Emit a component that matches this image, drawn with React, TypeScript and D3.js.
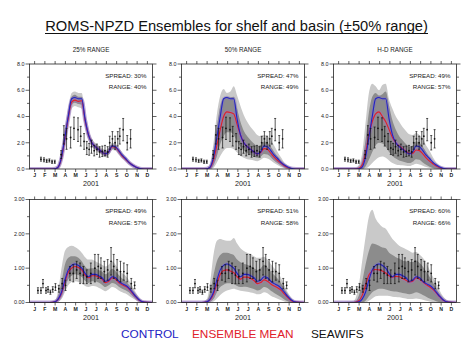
import React from "react";
import * as d3 from "d3";

// ---------- DATA ----------
const DAYS = [0, 60, 75, 85, 95, 105, 115, 125, 135, 145, 155, 165, 175, 185, 195, 205, 215, 225, 235, 245, 255, 265, 275, 285, 295, 305, 315, 325, 340, 365];
const MONTHS = ["J", "F", "M", "A", "M", "J", "J", "A", "S", "O", "N", "D"];
const YEAR_LABEL = "2001";
const COL_TITLES = ["25% RANGE", "50% RANGE", "H-D RANGE"];
const SPREADS = ["30%", "47%", "49%", "49%", "51%", "60%"];
const RANGES = ["40%", "49%", "57%", "57%", "58%", "66%"];
const TOP_TICKS = [0, 2, 4, 6, 8];
const BOT_TICKS = [0, 1, 2, 3];

// shelf (top row)
const CONTROL_TOP = [0, 0, 0.02, 0.15, 0.9, 2.4, 4.0, 5.35, 5.45, 5.35, 5.35, 3.8, 2.6, 2.0, 1.7, 1.5, 1.3, 1.15, 1.3, 1.75, 1.7, 1.4, 1.05, 0.8, 0.5, 0.3, 0.15, 0.05, 0, 0];
const MEAN_T25 = [0, 0, 0.02, 0.15, 0.85, 2.3, 3.9, 5.1, 5.25, 5.15, 5.2, 3.7, 2.6, 2.0, 1.7, 1.5, 1.3, 1.15, 1.3, 1.7, 1.65, 1.35, 1.0, 0.75, 0.5, 0.3, 0.15, 0.05, 0, 0];
const LHI_T25 = [0, 0, 0.05, 0.3, 1.3, 3.0, 4.6, 5.8, 5.9, 5.8, 5.8, 4.2, 3.0, 2.3, 2.0, 1.8, 1.6, 1.45, 1.6, 2.0, 1.95, 1.6, 1.25, 0.95, 0.65, 0.4, 0.2, 0.08, 0, 0];
const LLO_T25 = [0, 0, 0, 0.05, 0.5, 1.7, 3.3, 4.6, 4.8, 4.7, 4.6, 3.2, 2.2, 1.7, 1.45, 1.25, 1.05, 0.9, 1.05, 1.45, 1.4, 1.1, 0.8, 0.6, 0.35, 0.2, 0.1, 0.02, 0, 0];
const DHI_T25 = [0, 0, 0.03, 0.2, 1.1, 2.7, 4.3, 5.5, 5.65, 5.5, 5.5, 4.0, 2.8, 2.15, 1.85, 1.65, 1.45, 1.3, 1.45, 1.85, 1.8, 1.45, 1.15, 0.85, 0.55, 0.35, 0.17, 0.06, 0, 0];
const DLO_T25 = [0, 0, 0.01, 0.1, 0.65, 2.0, 3.6, 4.9, 5.05, 4.95, 4.9, 3.45, 2.4, 1.85, 1.55, 1.35, 1.15, 1.0, 1.15, 1.55, 1.5, 1.2, 0.9, 0.65, 0.42, 0.25, 0.12, 0.03, 0, 0];

const MEAN_T50 = [0, 0, 0.02, 0.12, 0.7, 1.8, 3.0, 4.0, 4.35, 4.3, 4.2, 3.4, 2.6, 2.0, 1.7, 1.5, 1.3, 1.15, 1.25, 1.55, 1.5, 1.2, 0.9, 0.65, 0.45, 0.25, 0.12, 0.04, 0, 0];
const LHI_T50 = [0, 0, 0.05, 0.4, 2.0, 4.2, 5.6, 6.1, 5.8, 5.9, 6.3, 5.6, 4.8, 4.1, 3.6, 3.2, 2.9, 2.6, 2.5, 2.6, 2.5, 2.2, 1.8, 1.3, 0.9, 0.5, 0.25, 0.1, 0, 0];
const LLO_T50 = [0, 0, 0, 0, 0.1, 0.5, 1.0, 1.4, 1.6, 1.6, 1.5, 1.25, 1.0, 0.85, 0.75, 0.7, 0.65, 0.6, 0.7, 0.85, 0.8, 0.65, 0.45, 0.3, 0.15, 0.07, 0.02, 0, 0, 0];
const DHI_T50 = [0, 0, 0.03, 0.25, 1.3, 3.2, 4.8, 5.4, 5.5, 5.45, 5.5, 4.6, 3.6, 2.9, 2.5, 2.2, 1.95, 1.75, 1.85, 2.1, 2.0, 1.7, 1.3, 0.95, 0.65, 0.38, 0.18, 0.06, 0, 0];
const DLO_T50 = [0, 0, 0, 0.02, 0.3, 1.0, 1.9, 2.5, 2.8, 2.8, 2.6, 2.1, 1.7, 1.4, 1.2, 1.05, 0.95, 0.85, 0.95, 1.15, 1.1, 0.9, 0.65, 0.45, 0.28, 0.14, 0.06, 0.01, 0, 0];

const MEAN_THD = [0, 0, 0.05, 0.3, 1.2, 2.6, 3.6, 4.2, 4.35, 4.0, 3.6, 3.0, 2.4, 2.0, 1.75, 1.55, 1.35, 1.2, 1.2, 1.45, 1.4, 1.15, 0.85, 0.6, 0.4, 0.22, 0.1, 0.03, 0, 0];
const LHI_THD = [0, 0, 0.3, 1.2, 3.5, 5.8, 6.5, 6.3, 6.0, 6.4, 6.5, 5.3, 4.6, 4.0, 3.6, 3.2, 2.9, 2.65, 2.6, 2.75, 2.6, 2.3, 1.8, 1.4, 0.9, 0.5, 0.25, 0.1, 0, 0];
const LLO_THD = [0, 0, 0, 0, 0.05, 0.2, 0.45, 0.7, 0.9, 0.95, 0.85, 0.65, 0.45, 0.35, 0.3, 0.28, 0.25, 0.22, 0.3, 0.4, 0.35, 0.25, 0.15, 0.08, 0.03, 0, 0, 0, 0, 0];
const DHI_THD = [0, 0, 0.1, 0.6, 2.2, 4.3, 5.5, 5.8, 5.6, 5.7, 5.9, 4.8, 3.7, 3.0, 2.5, 2.2, 1.9, 1.7, 1.8, 2.1, 2.0, 1.7, 1.3, 0.9, 0.55, 0.3, 0.13, 0.04, 0, 0];
const DLO_THD = [0, 0, 0, 0.02, 0.2, 0.7, 1.3, 1.8, 2.0, 1.95, 1.7, 1.3, 1.0, 0.8, 0.65, 0.58, 0.5, 0.45, 0.55, 0.75, 0.7, 0.5, 0.32, 0.18, 0.08, 0.03, 0, 0, 0, 0];

// basin (bottom row)
const CONTROL_BOT = [0, 0, 0.02, 0.1, 0.3, 0.65, 0.95, 1.08, 1.12, 1.08, 1.0, 0.85, 0.75, 0.82, 0.82, 0.78, 0.72, 0.62, 0.65, 0.75, 0.72, 0.62, 0.55, 0.5, 0.42, 0.3, 0.18, 0.08, 0.01, 0];
const MEAN_B25 = [0, 0, 0.02, 0.09, 0.27, 0.6, 0.88, 1.0, 1.05, 1.02, 0.95, 0.8, 0.72, 0.78, 0.78, 0.74, 0.68, 0.58, 0.62, 0.72, 0.68, 0.58, 0.52, 0.47, 0.4, 0.28, 0.17, 0.07, 0.01, 0];
const LHI_B25 = [0, 0, 0.05, 0.35, 1.0, 1.5, 1.62, 1.65, 1.62, 1.55, 1.45, 1.32, 1.25, 1.25, 1.2, 1.15, 1.1, 1.05, 1.1, 1.2, 1.1, 0.95, 0.85, 0.78, 0.65, 0.48, 0.3, 0.15, 0.03, 0];
const LLO_B25 = [0, 0, 0, 0.02, 0.1, 0.3, 0.5, 0.6, 0.62, 0.6, 0.55, 0.48, 0.45, 0.48, 0.47, 0.43, 0.38, 0.33, 0.38, 0.45, 0.42, 0.35, 0.3, 0.26, 0.2, 0.13, 0.07, 0.02, 0, 0];
const DHI_B25 = [0, 0, 0.03, 0.2, 0.6, 1.1, 1.3, 1.35, 1.35, 1.3, 1.2, 1.05, 0.98, 1.0, 1.0, 0.95, 0.9, 0.82, 0.88, 0.98, 0.92, 0.8, 0.7, 0.62, 0.52, 0.38, 0.23, 0.1, 0.02, 0];
const DLO_B25 = [0, 0, 0.01, 0.05, 0.18, 0.45, 0.68, 0.78, 0.82, 0.8, 0.74, 0.63, 0.57, 0.62, 0.62, 0.58, 0.52, 0.45, 0.5, 0.57, 0.54, 0.46, 0.4, 0.36, 0.3, 0.2, 0.12, 0.04, 0, 0];

const MEAN_B50 = [0, 0, 0.02, 0.08, 0.25, 0.55, 0.82, 0.93, 0.95, 0.92, 0.87, 0.75, 0.68, 0.74, 0.74, 0.7, 0.64, 0.55, 0.58, 0.66, 0.62, 0.54, 0.48, 0.43, 0.36, 0.25, 0.15, 0.06, 0.01, 0];
const LHI_B50 = [0, 0, 0.1, 0.6, 1.4, 1.8, 1.85, 1.82, 1.8, 1.8, 1.88, 1.72, 1.58, 1.5, 1.45, 1.4, 1.35, 1.3, 1.3, 1.33, 1.25, 1.12, 1.0, 0.9, 0.72, 0.5, 0.3, 0.15, 0.03, 0];
const LLO_B50 = [0, 0, 0, 0, 0.03, 0.12, 0.22, 0.3, 0.35, 0.38, 0.4, 0.37, 0.34, 0.33, 0.31, 0.29, 0.27, 0.24, 0.25, 0.3, 0.27, 0.2, 0.15, 0.11, 0.07, 0.03, 0.01, 0, 0, 0];
const DHI_B50 = [0, 0, 0.05, 0.3, 0.8, 1.2, 1.38, 1.45, 1.45, 1.42, 1.38, 1.25, 1.17, 1.12, 1.1, 1.05, 1.0, 0.95, 1.0, 1.1, 1.02, 0.9, 0.8, 0.7, 0.57, 0.4, 0.24, 0.1, 0.02, 0];
const DLO_B50 = [0, 0, 0, 0.02, 0.1, 0.3, 0.45, 0.52, 0.56, 0.56, 0.53, 0.48, 0.45, 0.46, 0.45, 0.42, 0.39, 0.35, 0.38, 0.45, 0.42, 0.34, 0.28, 0.22, 0.16, 0.09, 0.04, 0.01, 0, 0];

const MEAN_BHD = [0, 0, 0.05, 0.2, 0.5, 0.8, 0.92, 0.96, 0.95, 0.92, 0.86, 0.78, 0.74, 0.76, 0.75, 0.7, 0.65, 0.6, 0.62, 0.72, 0.68, 0.6, 0.52, 0.46, 0.38, 0.28, 0.17, 0.07, 0.01, 0];
const LHI_BHD = [0, 0.05, 0.5, 1.2, 1.9, 2.5, 2.7, 2.45, 2.3, 2.2, 2.15, 2.0, 1.85, 1.75, 1.65, 1.6, 1.55, 1.5, 1.45, 1.47, 1.4, 1.3, 1.15, 0.95, 0.75, 0.55, 0.35, 0.18, 0.05, 0];
const LLO_BHD = [0, 0, 0, 0, 0, 0.05, 0.12, 0.18, 0.2, 0.2, 0.2, 0.19, 0.17, 0.16, 0.15, 0.13, 0.12, 0.1, 0.1, 0.12, 0.1, 0.08, 0.05, 0.03, 0.01, 0, 0, 0, 0, 0];
const DHI_BHD = [0, 0, 0.2, 0.6, 1.1, 1.5, 1.72, 1.7, 1.65, 1.6, 1.58, 1.45, 1.38, 1.32, 1.28, 1.22, 1.2, 1.18, 1.18, 1.22, 1.15, 1.05, 0.9, 0.75, 0.58, 0.4, 0.24, 0.1, 0.02, 0];
const DLO_BHD = [0, 0, 0, 0, 0.05, 0.18, 0.3, 0.36, 0.4, 0.4, 0.38, 0.35, 0.33, 0.32, 0.3, 0.28, 0.26, 0.24, 0.26, 0.3, 0.27, 0.22, 0.17, 0.12, 0.08, 0.04, 0.01, 0, 0, 0];

// SeaWiFS observations
const OBS_TOP_DAYS = [34, 43, 51, 59, 67, 75, 94, 102, 110, 122, 132, 144, 152, 162, 170, 177, 184, 192, 200, 208, 216, 224, 232, 238, 246, 254, 262, 268, 278, 290, 300];
const OBS_TOP_MEAN = [0.75, 0.7, 0.62, 0.65, 0.55, 0.55, 1.1, 2.6, 2.3, 2.4, 3.1, 3.0, 2.5, 2.1, 1.6, 1.5, 1.7, 1.4, 1.5, 1.3, 1.35, 1.4, 1.3, 2.0, 2.3, 2.0, 2.3, 2.5, 3.0, 2.0, 2.3];
const OBS_TOP_ERR = [0.15, 0.15, 0.12, 0.12, 0.12, 0.12, 0.3, 0.7, 0.8, 0.8, 0.85, 0.9, 0.75, 0.6, 0.5, 0.45, 0.5, 0.4, 0.4, 0.4, 0.4, 0.4, 0.4, 0.5, 0.55, 0.5, 0.55, 0.6, 0.85, 0.55, 0.7];
const OBS_BOT_DAYS = [25, 34, 40, 49, 55, 62, 69, 77, 87, 97, 107, 120, 130, 140, 150, 160, 170, 182, 194, 204, 212, 222, 232, 242, 250, 260, 270, 280, 290, 302, 312];
const OBS_BOT_MEAN = [0.35, 0.35, 0.55, 0.35, 0.38, 0.3, 0.38, 0.45, 0.4, 0.55, 0.5, 0.85, 0.85, 0.95, 0.85, 0.8, 0.75, 0.85, 1.0, 1.05, 1.0, 0.9, 0.95, 1.2, 1.05, 0.95, 0.9, 0.9, 0.85, 0.55, 0.5];
const OBS_BOT_ERR = [0.08, 0.08, 0.12, 0.08, 0.08, 0.06, 0.08, 0.1, 0.1, 0.15, 0.15, 0.2, 0.25, 0.25, 0.3, 0.25, 0.2, 0.3, 0.4, 0.35, 0.3, 0.3, 0.3, 0.4, 0.35, 0.3, 0.3, 0.25, 0.25, 0.15, 0.1];

// ---------- LAYOUT ----------
const COL_X = [29.5, 181.5, 333.5];
const PW = 123;
const ROWS = [
  { top: 64, bottom: 169, max: 8, ticks: TOP_TICKS, minorStep: 1, fmt: d3.format(".1f"), control: CONTROL_TOP, obsD: OBS_TOP_DAYS, obsM: OBS_TOP_MEAN, obsE: OBS_TOP_ERR },
  { top: 199.5, bottom: 302.5, max: 3, ticks: BOT_TICKS, minorStep: 0.5, fmt: d3.format(".2f"), control: CONTROL_BOT, obsD: OBS_BOT_DAYS, obsM: OBS_BOT_MEAN, obsE: OBS_BOT_ERR },
];
const PANELS = [
  { r: 0, c: 0, mean: MEAN_T25, lhi: LHI_T25, llo: LLO_T25, dhi: DHI_T25, dlo: DLO_T25 },
  { r: 0, c: 1, mean: MEAN_T50, lhi: LHI_T50, llo: LLO_T50, dhi: DHI_T50, dlo: DLO_T50 },
  { r: 0, c: 2, mean: MEAN_THD, lhi: LHI_THD, llo: LLO_THD, dhi: DHI_THD, dlo: DLO_THD },
  { r: 1, c: 0, mean: MEAN_B25, lhi: LHI_B25, llo: LLO_B25, dhi: DHI_B25, dlo: DLO_B25 },
  { r: 1, c: 1, mean: MEAN_B50, lhi: LHI_B50, llo: LLO_B50, dhi: DHI_B50, dlo: DLO_B50 },
  { r: 1, c: 2, mean: MEAN_BHD, lhi: LHI_BHD, llo: LLO_BHD, dhi: DHI_BHD, dlo: DLO_BHD },
];

const FONT = "'Liberation Sans', Arial, Helvetica, sans-serif";
const BLUE = "#2222c4";
const RED = "#e0202a";
const LIGHT = "#c9c9c9";
const DARK = "#8c8c8c";

function Panel({ p, idx }: { p: any; idx: number }) {
  const row = ROWS[p.r];
  const x0 = COL_X[p.c];
  const x = d3.scaleLinear().domain([0, 365]).range([x0, x0 + PW]);
  const y = d3.scaleLinear().domain([0, row.max]).range([row.bottom, row.top]);
  const band = (hi: number[], lo: number[]) =>
    d3.area<number>().x((_, i) => x(DAYS[i])).y0((_, i) => y(lo[i])).y1((_, i) => y(hi[i])).curve(d3.curveMonotoneX)(DAYS) || "";
  const line = (v: number[]) =>
    d3.line<number>().x((_, i) => x(DAYS[i])).y((_, i) => y(v[i])).curve(d3.curveMonotoneX)(DAYS) || "";
  const monthDays = MONTHS.map((_, i) => 15.2 + i * 30.42);
  const minor = d3.range(0, row.max + 1e-9, row.minorStep).filter((v) => !row.ticks.includes(v));
  const clipId = `clip${idx}`;
  return (
    <g>
      <defs>
        <clipPath id={clipId}>
          <rect x={x0} y={row.top} width={PW} height={row.bottom - row.top} />
        </clipPath>
      </defs>
      <g clipPath={`url(#${clipId})`}>
        <path d={band(p.lhi, p.llo)} fill={LIGHT} />
        <path d={band(p.dhi, p.dlo)} fill={DARK} />
        <path d={band(p.dhi, p.dlo)} fill="none" />
        <path d={line(p.mean)} fill="none" stroke="#a070b8" strokeOpacity={0.45} strokeWidth={4} />
        <path d={line(row.control)} fill="none" stroke="#8070c0" strokeOpacity={0.4} strokeWidth={3.5} />
        <path d={line(p.mean)} fill="none" stroke={RED} strokeWidth={1.1} />
        <path d={line(row.control)} fill="none" stroke={BLUE} strokeWidth={1.1} />
        {row.obsD.map((d: number, i: number) => {
          const cx = x(d);
          const lo = y(row.obsM[i] - row.obsE[i]);
          const hi = y(row.obsM[i] + row.obsE[i]);
          return (
            <g key={i} stroke="#111" strokeWidth={0.7}>
              <line x1={cx} x2={cx} y1={lo} y2={hi} />
              <line x1={cx - 1} x2={cx + 1} y1={lo} y2={lo} />
              <line x1={cx - 1} x2={cx + 1} y1={hi} y2={hi} />
              <circle cx={cx} cy={y(row.obsM[i])} r={0.9} fill="#111" stroke="none" />
            </g>
          );
        })}
      </g>
      <rect x={x0} y={row.top} width={PW} height={row.bottom - row.top} fill="none" stroke="#222" strokeWidth={0.8} />
      {/* y ticks both sides, outward */}
      {row.ticks.map((t: number) => (
        <g key={"t" + t} stroke="#222" strokeWidth={0.7}>
          <line x1={x0 - 4} x2={x0} y1={y(t)} y2={y(t)} />
          <line x1={x0 + PW} x2={x0 + PW + 4} y1={y(t)} y2={y(t)} />
        </g>
      ))}
      {minor.map((t: number) => (
        <g key={"m" + t} stroke="#222" strokeWidth={0.7}>
          <line x1={x0 - 2.5} x2={x0} y1={y(t)} y2={y(t)} />
          <line x1={x0 + PW} x2={x0 + PW + 2.5} y1={y(t)} y2={y(t)} />
        </g>
      ))}
      {row.ticks.map((t: number) => (
        <text key={"l" + t} x={x0 - 5} y={y(t) + 1.9} fontSize={5.4} fontFamily={FONT} textAnchor="end" fill="#222">
          {row.fmt(t)}
        </text>
      ))}
      {/* x ticks */}
      {monthDays.map((d, i) => (
        <g key={"x" + i} stroke="#222" strokeWidth={0.7}>
          <line x1={x(d)} x2={x(d)} y1={row.top - 3} y2={row.top} />
          <line x1={x(d)} x2={x(d)} y1={row.bottom} y2={row.bottom + 3} />
        </g>
      ))}
      {MONTHS.map((m, i) => (
        <text key={"ml" + i} x={x(monthDays[i])} y={row.bottom + 8} fontSize={5.2} fontFamily={FONT} fontWeight="bold" textAnchor="middle" fill="#222">
          {m}
        </text>
      ))}
      <text x={x0 + PW / 2} y={row.bottom + 17} fontSize={7.2} fontFamily={FONT} textAnchor="middle" fill="#222">
        {YEAR_LABEL}
      </text>
      <text x={x0 + PW - 6} y={row.top + 13.5} fontSize={6.2} fontFamily={FONT} textAnchor="end" fill="#222">
        {`SPREAD: ${SPREADS[idx]}`}
      </text>
      <text x={x0 + PW - 6} y={row.top + 25} fontSize={6.2} fontFamily={FONT} textAnchor="end" fill="#222">
        {`RANGE: ${RANGES[idx]}`}
      </text>
    </g>
  );
}

export default function App() {
  return (
    <svg width={474} height={355} style={{ position: "absolute", left: 0, top: 0, background: "#fff" }}>
      <rect x={0} y={0} width={474} height={355} fill="#fff" />
      <text x={236.5} y={31} fontSize={14.7} fontFamily={FONT} textAnchor="middle" fill="#111">
        ROMS-NPZD Ensembles for shelf and basin (±50% range)
      </text>
      <line x1={45} x2={428} y1={33.5} y2={33.5} stroke="#111" strokeWidth={1} />
      {COL_TITLES.map((t, i) => (
        <text key={t} x={COL_X[i] + PW / 2} y={52} fontSize={6.3} fontFamily={FONT} textAnchor="middle" fill="#222">
          {t}
        </text>
      ))}
      {PANELS.map((p, i) => (
        <Panel key={i} p={p} idx={i} />
      ))}
      <text x={121} y={338} fontSize={11.8} fontFamily={FONT} fill={BLUE}>CONTROL</text>
      <text x={192} y={338} fontSize={11.8} fontFamily={FONT} fill={RED}>ENSEMBLE MEAN</text>
      <text x={311} y={338} fontSize={11.8} fontFamily={FONT} fill="#111">SEAWIFS</text>
    </svg>
  );
}
